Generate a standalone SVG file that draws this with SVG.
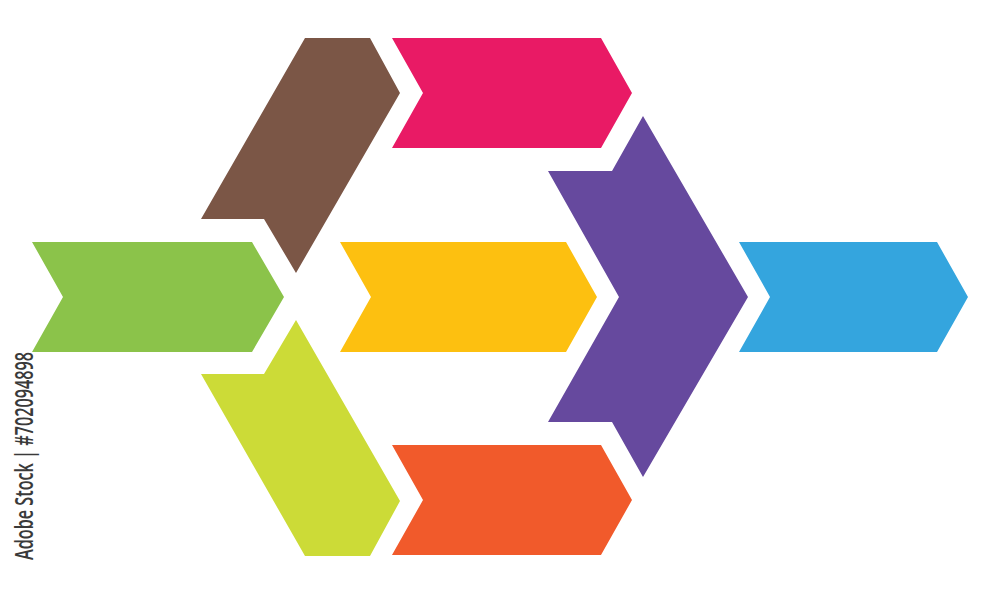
<svg xmlns="http://www.w3.org/2000/svg" width="1000" height="594" viewBox="0 0 1000 594">
<style>
.wm{font-family:"Open Sans","Liberation Sans",sans-serif;font-weight:600;font-size:25px;fill:#3a3a3a}
</style>
<rect width="1000" height="594" fill="#ffffff"/>
<g id="brown"><polygon points="305,38 370,38 400,93 296,273 264,219 201,219" fill="#7B5646"/></g>
<g id="pink"><polygon points="392,38 601,38 632,93 601,148 392,148 423,93" fill="#E91A65"/></g>
<g id="green"><polygon points="32,242 252,242 284,297 252,352 32,352 63,297" fill="#8BC34A"/></g>
<g id="yellow"><polygon points="340,242 566,242 597,297 566,352 340,352 371,297" fill="#FDC010"/></g>
<g id="purple"><polygon points="643,116 748,297 643,477 612,422 548,422 619,297 548,171 612,171" fill="#66499E"/></g>
<g id="blue"><polygon points="739,242 937,242 968,297 937,352 739,352 770,297" fill="#34A5DE"/></g>
<g id="lime"><polygon points="296,320 400,501 370,556 305,556 201,374 264,374" fill="#CCDB37"/></g>
<g id="orange"><polygon points="392,445 601,445 632,500 601,555 392,555 423,500" fill="#F15A2B"/></g>
<g id="connectors"></g>
<text class="wm" transform="translate(33,560) rotate(-90)" textLength="208" lengthAdjust="spacingAndGlyphs">Adobe Stock | #702094898</text>
</svg>
